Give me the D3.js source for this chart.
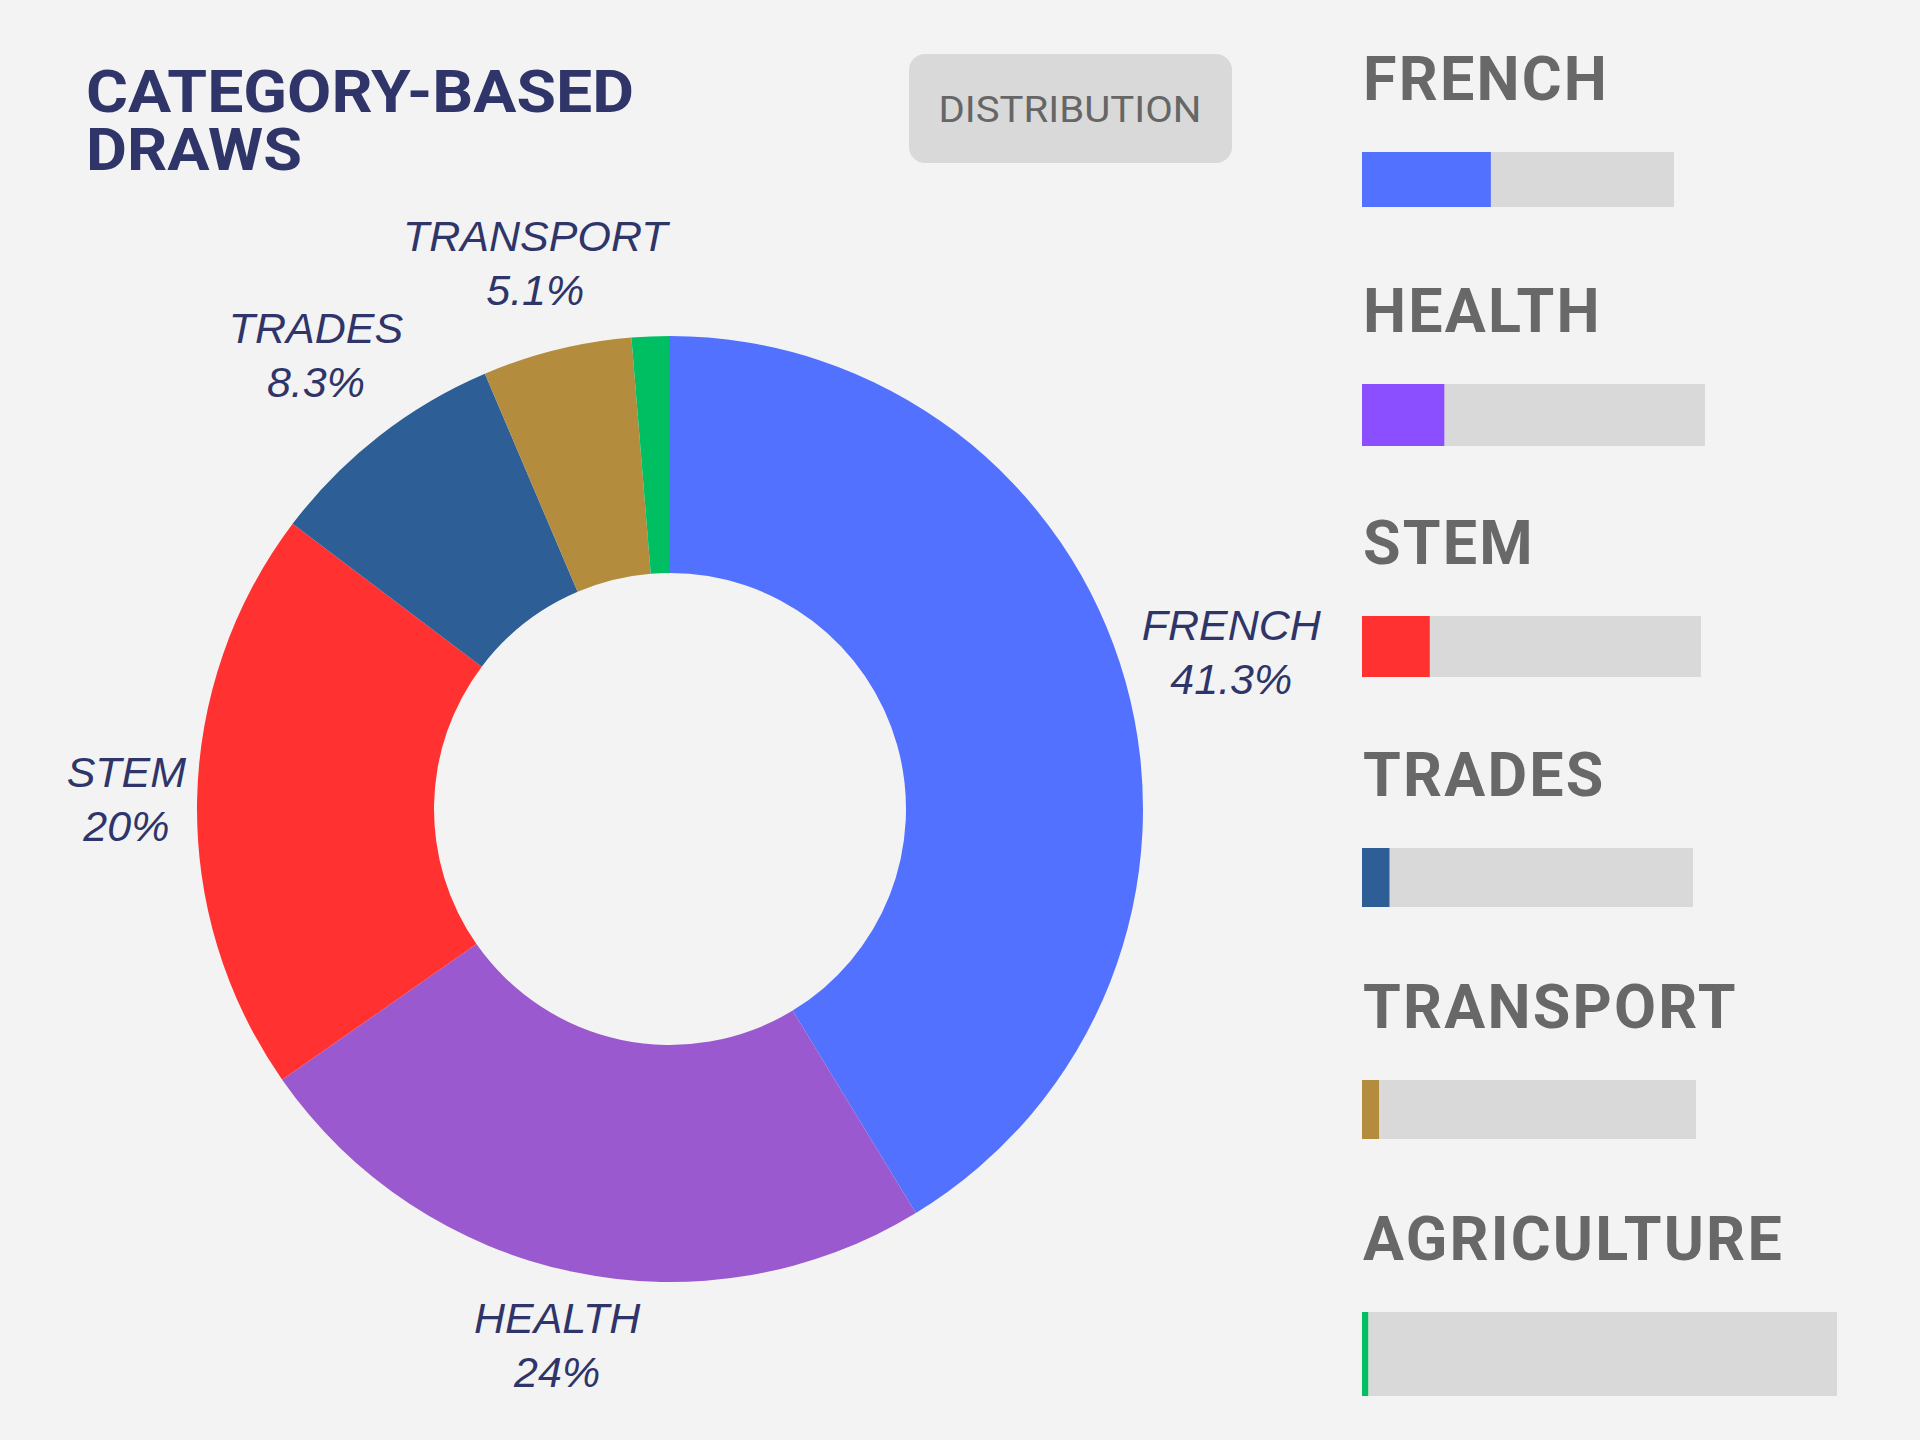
<!DOCTYPE html>
<html>
<head>
<meta charset="utf-8">
<script src="https://cdn.jsdelivr.net/npm/d3@7"></script>
<style>
  html, body { margin: 0; padding: 0; background: #f3f3f3; }
  svg { display: block; }
</style>
</head>
<body>
<div id="chart"></div>
<script>
// DATA
const categories = ["FRENCH", "HEALTH", "STEM", "TRADES", "TRANSPORT", "AGRICULTURE"];
const shares     = [41.3, 24, 20, 8.3, 5.1, 1.3];
const pieColors  = ["#5271ff", "#9b59cf", "#ff3131", "#2e5e96", "#b48c3e", "#00bf63"];
const barColors  = ["#5271ff", "#8c4fff", "#ff3131", "#2e5e96", "#b48c3e", "#00bf63"];

// legend track sizes (layout only)
const trackWidths  = [312, 343, 339, 331, 334, 475];
const trackHeights = [55, 62, 61, 59, 59, 84];

const W = 1920, H = 1440;
const navy = "#2f3569", grey = "#686868", track = "#d9d9d9";

const svg = d3.select("#chart").append("svg")
  .attr("width", W).attr("height", H)
  .style("background", "#f3f3f3");

// TITLE
const title = svg.append("g").attr("fill", navy)
  .style("font-family", "Roboto, 'Open Sans', sans-serif")
  .style("font-weight", 700).style("font-size", "59px");
title.append("text").attr("x", 86).attr("y", 112)
  .attr("textLength", 548).attr("lengthAdjust", "spacingAndGlyphs")
  .text("CATEGORY-BASED");
title.append("text").attr("x", 86).attr("y", 170)
  .attr("textLength", 216).attr("lengthAdjust", "spacingAndGlyphs")
  .text("DRAWS");

// BUTTON
svg.append("rect")
  .attr("x", 909).attr("y", 54).attr("width", 323).attr("height", 109)
  .attr("rx", 16).attr("fill", track);
svg.append("text")
  .attr("x", 1070).attr("y", 122).attr("text-anchor", "middle")
  .attr("fill", "#666666")
  .style("font-family", "Roboto, sans-serif")
  .style("font-weight", 400).style("font-size", "37px")
  .attr("textLength", 263).attr("lengthAdjust", "spacingAndGlyphs")
  .text("DISTRIBUTION");

// DONUT
const cx = 670, cy = 809, outerR = 473, innerR = 236;
const data = categories.map((c, i) => ({ name: c, value: shares[i], color: pieColors[i] }));

const pie = d3.pie().sort(null).value(d => d.value);
const arc = d3.arc().innerRadius(innerR).outerRadius(outerR);
const arcs = pie(data);

const donut = svg.append("g").attr("transform", `translate(${cx},${cy})`);
donut.selectAll("path")
  .data(arcs)
  .enter()
  .append("path")
  .attr("d", arc)
  .attr("fill", d => d.data.color);

// outside labels, pushed off the ring so the text box sits just outside it
const labelGap = outerR + 10;
const labels = donut.selectAll("g.lbl")
  .data(arcs.filter(d => d.data.value > 2))
  .enter()
  .append("g")
  .attr("class", "lbl")
  .attr("fill", navy)
  .attr("text-anchor", "middle")
  .style("font-family", "'Liberation Sans', Arial, sans-serif")
  .style("font-style", "italic")
  .style("font-size", "43px");

labels.append("text").attr("y", -12).text(d => d.data.name);
labels.append("text").attr("y", 42).text(d => `${d.data.value}%`);

labels.attr("transform", function (d) {
  const a = (d.startAngle + d.endAngle) / 2;
  const ux = Math.sin(a), uy = -Math.cos(a);
  const b = this.getBBox();
  const w = b.width, h = 98;
  const dist = labelGap + Math.abs(ux) * w / 2 + Math.abs(uy) * h / 2;
  return `translate(${ux * dist},${uy * dist})`;
});

// LEGEND BARS
const legendX = 1362, rowStep = 232, firstBaseline = 100, barOffset = 52;

const rows = svg.selectAll("g.row")
  .data(data)
  .enter()
  .append("g")
  .attr("class", "row")
  .attr("transform", (d, i) => `translate(${legendX},${firstBaseline + i * rowStep})`);

rows.append("text")
  .attr("x", 1).attr("y", 0)
  .attr("fill", grey)
  .style("font-family", "Roboto, sans-serif")
  .style("font-weight", 700).style("font-size", "61px")
  .style("letter-spacing", "2.2px")
  .text(d => d.name);

rows.append("rect")
  .attr("x", 0).attr("y", barOffset)
  .attr("width", (d, i) => trackWidths[i])
  .attr("height", (d, i) => trackHeights[i])
  .attr("fill", track);

rows.append("rect")
  .attr("x", 0).attr("y", barOffset)
  .attr("width", (d, i) => d3.scaleLinear().domain([0, 100]).range([0, trackWidths[i]])(d.value))
  .attr("height", (d, i) => trackHeights[i])
  .attr("fill", (d, i) => barColors[i]);
</script>
</body>
</html>
